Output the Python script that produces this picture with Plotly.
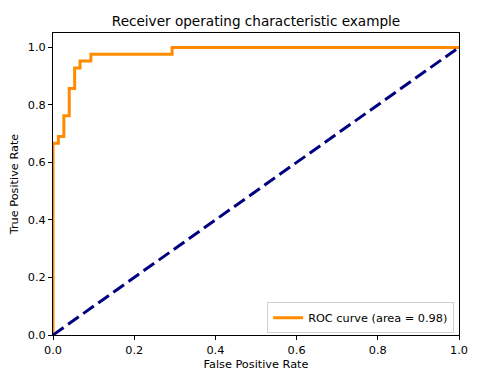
import plotly.graph_objects as go

fpr = [0.0, 0.0, 1/75, 1/75, 2/75, 2/75, 3/75, 3/75, 4/75, 4/75, 5/75, 5/75, 7/75, 7/75, 22/75, 22/75, 1.0]
tpr = [0.0, 28/42, 28/42, 29/42, 29/42, 32/42, 32/42, 36/42, 36/42, 39/42, 39/42, 40/42, 40/42, 41/42, 41/42, 1.0, 1.0]
chance_x = [0.0, 1.0]
chance_y = [0.0, 1.0]
roc_auc = 0.98
tick_vals = [0.0, 0.2, 0.4, 0.6, 0.8, 1.0]
tick_text = ["0.0", "0.2", "0.4", "0.6", "0.8", "1.0"]

FS = 11.3

fig = go.Figure()
fig.add_trace(go.Scatter(x=fpr, y=tpr, mode="lines",
                         line=dict(color="darkorange", width=3),
                         name="ROC curve (area = %0.2f)" % roc_auc))
fig.add_trace(go.Scatter(x=chance_x, y=chance_y, mode="lines",
                         line=dict(color="navy", width=3, dash="13px,5.5px"),
                         showlegend=False))

axis_common = dict(showgrid=False, zeroline=False, showline=True, linecolor="black",
                   linewidth=1, mirror=True, ticks="outside", ticklen=4, tickcolor="black",
                   tickwidth=1, tickmode="array", tickvals=tick_vals, ticktext=tick_text,
                   automargin=False,
                   tickfont=dict(size=FS, color="black"))

fig.update_layout(
    width=488, height=378,
    margin=dict(l=53, r=29, t=33, b=43),
    paper_bgcolor="white", plot_bgcolor="white",
    font=dict(family="DejaVu Sans", color="black", size=FS),
    title=dict(text="Receiver operating characteristic example", x=256/488, xanchor="center",
               y=1 - 21.5/378, yanchor="middle", font=dict(size=13.6)),
    xaxis=dict(range=[0, 1.0], title=dict(text="False Positive Rate", standoff=4,
                                          font=dict(size=FS)), **axis_common),
    yaxis=dict(range=[0, 1.05], title=dict(text="True Positive Rate", standoff=6,
                                           font=dict(size=FS)), **axis_common),
    legend=dict(x=0.988, y=0.006, xanchor="right", yanchor="bottom",
                bgcolor="rgba(255,255,255,0.8)", bordercolor="#d0d0d0", borderwidth=1,
                font=dict(size=FS)),
)
fig.write_html("out.html", config={"displayModeBar": False},
               post_script="document.body.style.margin='0';document.body.style.overflow='hidden';")
